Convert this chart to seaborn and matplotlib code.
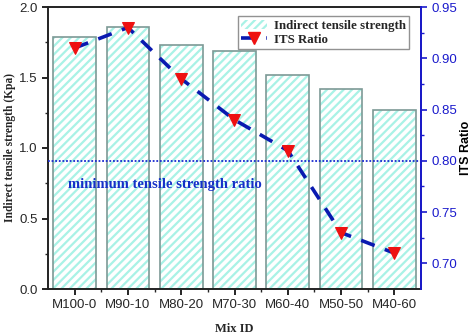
import matplotlib
matplotlib.use("Agg")
import matplotlib.pyplot as plt
import seaborn as sns
import pandas as pd
from matplotlib.lines import Line2D
from matplotlib.patches import Patch

mixes = ["M100-0", "M90-10", "M80-20", "M70-30", "M60-40", "M50-50", "M40-60"]
its = [1.79, 1.86, 1.73, 1.69, 1.52, 1.42, 1.27]
its_ratio = [0.91, 0.93, 0.88, 0.84, 0.81, 0.73, 0.71]
min_ratio = 0.80

df = pd.DataFrame({"mix": mixes, "its": its, "ratio": its_ratio})

sns.set_style("ticks")
plt.rcParams["hatch.linewidth"] = 1.6
plt.rcParams["font.family"] = ["Liberation Sans", "DejaVu Sans"]

fig = plt.figure(figsize=(4.74, 3.36), dpi=100)
ax = fig.add_axes([48/474, 1 - 289/336, (421-48)/474, (289-7)/336])

hatch_col = "#a9f2e6"
sns.barplot(data=df, x="mix", y="its", ax=ax, width=0.8, color="white",
            edgecolor=hatch_col, linewidth=0, hatch="////", saturation=1)
for p in ax.patches:
    p.set_facecolor("white")
    p.set_edgecolor(hatch_col)
    p.set_linewidth(0)
# outline bars
sns.barplot(data=df, x="mix", y="its", ax=ax, width=0.8, fill=False,
            edgecolor="#7d9a96", linewidth=1.2)

ax.set_ylim(0, 2.0)
ax.set_xlim(-0.5, 6.5)
ax.set_yticks([0, 0.5, 1.0, 1.5, 2.0])
ax.set_yticklabels(["0.0", "0.5", "1.0", "1.5", "2.0"])
ax.set_yticks([0.25, 0.75, 1.25, 1.75], minor=True)
ax.set_xticks([0.5 + i for i in range(6)], minor=True)
ax.tick_params(axis="both", labelsize=9.5, color="black", width=1.2, length=4, direction="out")
ax.tick_params(axis="both", which="minor", length=2.5, width=1.0)
for s in ax.spines.values():
    s.set_linewidth(1.4)
    s.set_color("#222222")
ax.set_xlabel("Mix ID", family="Liberation Serif", fontweight="bold", fontsize=9, labelpad=8)
ax.set_ylabel("Indirect tensile strength (Kpa)", family="Liberation Serif",
              fontweight="bold", fontsize=8.3, labelpad=2)

ax2 = ax.twinx()
blue = "#1a1acc"
sns.lineplot(x=list(range(len(mixes))), y=its_ratio, ax=ax2, color="#0a1ab0",
             linewidth=2.6, linestyle=(0, (4, 3)), marker="v", markersize=9,
             markerfacecolor="#ee1111", markeredgecolor="#ee1111", legend=False)
ax2.axhline(min_ratio, color="#1a2ad0", linestyle=(0, (1, 1)), linewidth=1.3)
ax2.set_ylim(0.675, 0.95)
ax2.set_yticks([0.70, 0.75, 0.80, 0.85, 0.90, 0.95])
ax2.set_yticks([0.725, 0.775, 0.825, 0.875, 0.925], minor=True)
ax2.tick_params(axis="y", colors=blue, labelsize=9.5, width=1.2, length=4)
ax2.tick_params(axis="y", which="minor", colors=blue, length=2.5, width=1.0)
ax2.spines["right"].set_color(blue)
ax2.spines["right"].set_linewidth(1.4)
for k in ["top", "left", "bottom"]:
    ax2.spines[k].set_visible(False)
ax2.set_ylabel("ITS Ratio", fontweight="bold", fontsize=9, color="black", labelpad=2)

ax2.text(-0.13, 0.777, "minimum tensile strength ratio", family="Liberation Serif",
         fontweight="bold", fontsize=10.5, color="#1530c8", transform=ax2.transData,
         ha="left", va="center")

handles = [Patch(facecolor="white", edgecolor=hatch_col, hatch="////", linewidth=0),
           Line2D([0], [0], color="#0a1ab0", linewidth=2.6, linestyle=(0, (4, 3)),
                  marker="v", markersize=9, markerfacecolor="#ee1111",
                  markeredgecolor="#ee1111")]
leg = ax2.legend(handles, ["Indirect tensile strength", "ITS Ratio"], loc="upper right",
                 bbox_to_anchor=(0.985, 0.99), frameon=True, fancybox=False,
                 prop={"family": "Liberation Serif", "weight": "bold", "size": 9.3},
                 handlelength=2.0, borderpad=0.25, labelspacing=0.15, handletextpad=0.5)
leg.get_frame().set_edgecolor("#777777")
leg.get_frame().set_linewidth(1.0)

fig.savefig("out.png", dpi=100)
